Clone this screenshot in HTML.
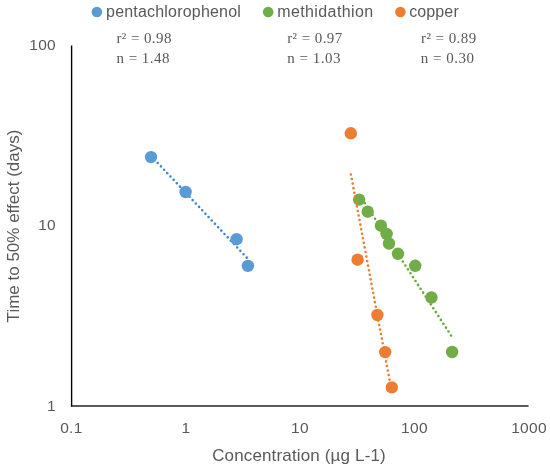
<!DOCTYPE html>
<html><head><meta charset="utf-8"><style>
html,body{margin:0;padding:0;background:#fff;}
body{width:550px;height:471px;overflow:hidden;}
svg{display:block;}
.s{font-family:"Liberation Sans",sans-serif;fill:#595959;}
.r{font-family:"Liberation Serif",serif;fill:#595959;}
</style></head><body>
<svg width="550" height="471" viewBox="0 0 550 471" xmlns="http://www.w3.org/2000/svg">
<rect width="550" height="471" fill="#fff"/>
<!-- legend -->
<circle cx="96.9" cy="12" r="5.3" fill="#5B9BD5"/>
<text class="s" x="106.1" y="17.2" font-size="16" letter-spacing="0.19">pentachlorophenol</text>
<circle cx="268.2" cy="12" r="5.3" fill="#70AD47"/>
<text class="s" x="277.2" y="17.2" font-size="16" letter-spacing="0.4">methidathion</text>
<circle cx="400.4" cy="12" r="5.3" fill="#ED7D31"/>
<text class="s" x="409.2" y="17.2" font-size="16" letter-spacing="0.12">copper</text>
<!-- r2 labels -->
<text class="r" font-size="15" x="116.4" y="43" letter-spacing="0.42">r² = 0.98</text>
<text class="r" font-size="15" x="116.4" y="63.2" letter-spacing="0.5">n = 1.48</text>
<text class="r" font-size="15" x="287.2" y="43" letter-spacing="0.42">r² = 0.97</text>
<text class="r" font-size="15" x="287.2" y="63.2" letter-spacing="0.5">n = 1.03</text>
<text class="r" font-size="15" x="421.1" y="43" letter-spacing="0.42">r² = 0.89</text>
<text class="r" font-size="15" x="420.8" y="63.2" letter-spacing="0.5">n = 0.30</text>
<!-- axes -->
<line x1="71.6" y1="45.5" x2="71.6" y2="406.7" stroke="#000" stroke-width="1.4"/>
<line x1="70.9" y1="406" x2="528.6" y2="406" stroke="#222" stroke-width="1.5"/>
<!-- y tick labels -->
<text class="s" font-size="15.5" letter-spacing="0.3" x="56" y="50.2" text-anchor="end">100</text>
<text class="s" font-size="15.5" letter-spacing="0.3" x="56" y="230.4" text-anchor="end">10</text>
<text class="s" font-size="15.5" letter-spacing="0.3" x="56" y="410.6" text-anchor="end">1</text>
<!-- x tick labels -->
<text class="s" font-size="15.5" letter-spacing="0.3" x="71.4" y="433" text-anchor="middle">0.1</text>
<text class="s" font-size="15.5" letter-spacing="0.3" x="186" y="433" text-anchor="middle">1</text>
<text class="s" font-size="15.5" letter-spacing="0.3" x="300" y="433" text-anchor="middle">10</text>
<text class="s" font-size="15.5" letter-spacing="0.3" x="414.5" y="433" text-anchor="middle">100</text>
<text class="s" font-size="15.5" letter-spacing="0.3" x="529" y="433" text-anchor="middle">1000</text>
<!-- axis titles -->
<text class="s" font-size="17" x="299" y="461.3" letter-spacing="0.15" text-anchor="middle">Concentration (µg L-1)</text>
<text class="s" font-size="17" transform="translate(18.6,226) rotate(-90)" text-anchor="middle">Time to 50% effect (days)</text>
<!-- series -->
<g fill="none" stroke-width="2.6" stroke-linecap="round" stroke-dasharray="0 4.64">
<line x1="151" y1="155.8" x2="247.9" y2="258.9" stroke="#3F84D2" stroke-dashoffset="-0.55"/>
</g>
<g fill="#5B9BD5">
<circle cx="151" cy="157.1" r="6.2"/><circle cx="185.6" cy="192" r="6.2"/><circle cx="236.6" cy="239.2" r="6.2"/><circle cx="247.9" cy="265.9" r="6.2"/>
</g>
<g fill="none" stroke-width="2.6" stroke-linecap="round" stroke-dasharray="0 4.64">
<line x1="359.1" y1="194.4" x2="452.1" y2="337.1" stroke="#62A83A" stroke-dashoffset="-1.3"/>
</g>
<g fill="#70AD47">
<circle cx="359.1" cy="199.6" r="6.2"/><circle cx="367.7" cy="211.7" r="6.2"/><circle cx="380.9" cy="225.7" r="6.2"/><circle cx="386.6" cy="233.9" r="6.2"/><circle cx="389" cy="243.5" r="6.2"/><circle cx="398" cy="253.8" r="6.2"/><circle cx="415.2" cy="265.8" r="6.2"/><circle cx="431.4" cy="297.5" r="6.2"/><circle cx="452.1" cy="352" r="6.2"/>
</g>
<g fill="none" stroke-width="2.6" stroke-linecap="round" stroke-dasharray="0 4.64">
<line x1="350.8" y1="173.9" x2="391.8" y2="391.7" stroke="#EE7A2C" stroke-dashoffset="-0.57"/>
</g>
<g fill="#ED7D31">
<circle cx="350.8" cy="133.3" r="6.2"/><circle cx="357.6" cy="259.7" r="6.2"/><circle cx="377.4" cy="315" r="6.2"/><circle cx="385.2" cy="352.1" r="6.2"/><circle cx="391.8" cy="387.4" r="6.2"/>
</g>
</svg>
</body></html>
